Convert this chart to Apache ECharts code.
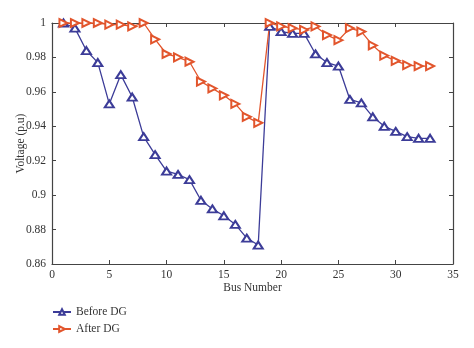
<!DOCTYPE html>
<html><head><meta charset="utf-8">
<script src="https://cdn.jsdelivr.net/npm/echarts@6/dist/echarts.min.js"></script>
<style>html,body{margin:0;padding:0;background:#fff}#c{width:474px;height:348px}</style>
</head><body><div id="c"></div>
<script>
const buses = [1,2,3,4,5,6,7,8,9,10,11,12,13,14,15,16,17,18,19,20,21,22,23,24,25,26,27,28,29,30,31,32,33];
const beforeDG = [1.000,0.997,0.984,0.977,0.953,0.970,0.957,0.934,0.9235,0.914,0.912,0.909,0.897,0.892,0.888,0.883,0.875,0.871,0.998,0.995,0.994,0.994,0.982,0.977,0.975,0.9556,0.9536,0.9455,0.940,0.937,0.934,0.933,0.933];
const afterDG = [1.000,1.000,1.000,1.000,0.999,0.999,0.998,1.000,0.9905,0.982,0.980,0.9775,0.966,0.962,0.958,0.953,0.9455,0.942,1.000,0.998,0.997,0.996,0.998,0.993,0.990,0.997,0.995,0.987,0.981,0.978,0.9755,0.975,0.975];
const xTicks = [0,5,10,15,20,25,30,35];
const yTicks = [0.86,0.88,0.9,0.92,0.94,0.96,0.98,1];
const FONT = 'Liberation Serif';
const axisCol = '#444';
const blue = '#3c3c98', orange = '#e2552c';
const chart = echarts.init(document.getElementById('c'));
const baseAxis = {
  axisLine:{show:true,onZero:false,lineStyle:{color:axisCol,width:1.2}},
  axisTick:{show:true,inside:true,length:4,lineStyle:{color:axisCol}},
  splitLine:{show:false}
};
chart.setOption({
  animation:false,
  textStyle:{fontFamily:FONT},
  grid:{left:52,right:21,top:23,bottom:84,containLabel:false,outerBoundsMode:'none'},
  legend:{
    orient:'vertical',left:47,top:301,itemWidth:18,itemHeight:7,itemGap:5,
    textStyle:{fontFamily:FONT,fontSize:11.5,color:'#333'},
    data:['Before DG','After DG']
  },
  xAxis:[
    Object.assign({type:'value',min:0,max:35,interval:5,name:'Bus Number',nameLocation:'middle',nameGap:18,
      nameMoveOverlap:false,
      nameTextStyle:{fontFamily:FONT,fontSize:11.5,color:'#333'},
      axisLabel:{fontFamily:FONT,fontSize:11.5,color:'#333',margin:5,
        formatter:v=>xTicks.includes(v)?String(v):''}},baseAxis),
    Object.assign({type:'value',position:'top',min:0,max:35,interval:5,axisLabel:{show:false}},baseAxis)
  ],
  yAxis:[
    Object.assign({type:'value',min:0.86,max:1,interval:0.02,name:'Voltage (p.u)',nameLocation:'middle',nameGap:25,
      nameMoveOverlap:false,
      nameTextStyle:{fontFamily:FONT,fontSize:11.5,color:'#333'},
      axisLabel:{fontFamily:FONT,fontSize:11.5,color:'#333',margin:6,
        formatter:v=>{const r=Math.round(v*100)/100;return yTicks.some(t=>Math.abs(t-r)<1e-9)?String(r):'';}}},baseAxis),
    Object.assign({type:'value',position:'right',min:0.86,max:1,interval:0.02,axisLabel:{show:false}},baseAxis)
  ],
  series:[
    {name:'Before DG',type:'line',data:buses.map((b,i)=>[b,beforeDG[i]]),
      symbol:'emptyTriangle',symbolSize:[9,7],lineStyle:{color:blue,width:1.3},
      itemStyle:{color:blue,borderWidth:1.2}},
    {name:'After DG',type:'line',data:buses.map((b,i)=>[b,afterDG[i]]),
      symbol:'emptyTriangle',symbolSize:[8,8],symbolRotate:-90,lineStyle:{color:orange,width:1.3},
      itemStyle:{color:orange,borderWidth:1.2}}
  ]
});
</script></body></html>
